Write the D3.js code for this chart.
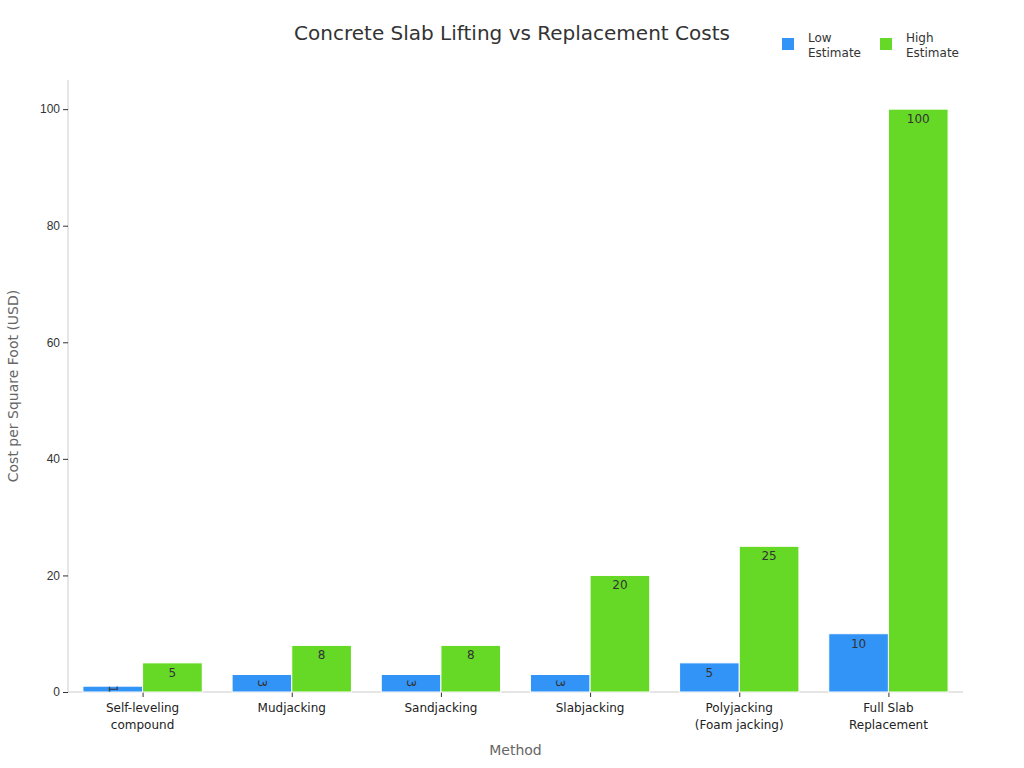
<!DOCTYPE html>
<html>
<head>
<meta charset="utf-8">
<script src="https://cdn.jsdelivr.net/npm/d3@7"></script>
<style>
  body { margin: 0; background: #fff; font-family: "DejaVu Sans", sans-serif; }
</style>
</head>
<body>
<div id="chart"></div>
<script>
// Chart data
const categories = [
  "Self-leveling\ncompound",
  "Mudjacking",
  "Sandjacking",
  "Slabjacking",
  "Polyjacking\n(Foam jacking)",
  "Full Slab\nReplacement"
];
const seriesNames = ["Low Estimate", "High Estimate"];
const lowEstimate = [1, 3, 3, 3, 5, 10];
const highEstimate = [5, 8, 8, 20, 25, 100];
const yTicks = [0, 20, 40, 60, 80, 100];
const colors = ["#3394f7", "#66d926"];

const svgWidth = 1024, svgHeight = 768;
const margin = { top: 80, right: 61, bottom: 76, left: 68 };
const width = svgWidth - margin.left - margin.right;
const height = svgHeight - margin.top - margin.bottom;

const svg = d3.select("#chart")
  .append("svg")
  .attr("width", svgWidth)
  .attr("height", svgHeight)
  .style("font-family", "'DejaVu Sans', sans-serif");

const g = svg.append("g")
  .attr("transform", "translate(" + margin.left + "," + margin.top + ")");

// Build rows for grouped bars
const rows = categories.map((c, i) => ({ cat: c, values: [lowEstimate[i], highEstimate[i]] }));

// each category gets an equal step, the bar pair fills 80% of it
const step = width / categories.length;
const groupWidth = step * 0.8;
const xInner = d3.scaleBand()
  .domain(seriesNames)
  .range([0, groupWidth]);

const y = d3.scaleLinear()
  .domain([0, 105])
  .range([height, 0]);

// Axes
const xAxis = g.append("g")
  .attr("transform", "translate(0," + height + ")")
  .call(d3.axisBottom(d3.scalePoint().domain(categories).range([step / 2, width - step / 2])).tickSize(5).tickFormat(""));
xAxis.select(".domain").attr("stroke", "#ccc").attr("d", "M0,0H" + width);
xAxis.selectAll(".tick line").attr("stroke", "#333");

const yAxis = g.append("g")
  .call(d3.axisLeft(y).tickValues(yTicks).tickSize(5));
yAxis.select(".domain").attr("stroke", "#ccc").attr("d", "M0,0V" + height);
yAxis.selectAll(".tick line").attr("stroke", "#333");
yAxis.selectAll(".tick text").attr("fill", "#333").style("font-size", "12px").attr("x", -8);

// Category labels (multi-line)
categories.forEach((c, i) => {
  const t = g.append("text")
    .attr("x", step * i + step / 2)
    .attr("y", height + 20)
    .attr("text-anchor", "middle")
    .attr("fill", "#222")
    .style("font-size", "12px");
  c.split("\n").forEach((line, j) => {
    t.append("tspan")
      .attr("x", step * i + step / 2)
      .attr("dy", j === 0 ? 0 : "1.4em")
      .text(line);
  });
});

// Bars
const groups = g.selectAll(".group")
  .data(rows)
  .enter()
  .append("g")
  .attr("class", "group")
  .attr("transform", (d, i) => "translate(" + (step * i + (step - groupWidth) / 2) + ",0)");

groups.selectAll("rect")
  .data(d => d.values.map((v, k) => ({ key: seriesNames[k], value: v, k: k })))
  .enter()
  .append("rect")
  .attr("x", d => xInner(d.key))
  .attr("y", d => y(d.value))
  .attr("width", xInner.bandwidth())
  .attr("height", d => height - y(d.value))
  .attr("fill", d => colors[d.k])
  .attr("stroke", "#fff")
  .attr("stroke-width", 1);

// Value labels
groups.selectAll(".lbl")
  .data(d => d.values.map((v, k) => ({ key: seriesNames[k], value: v, k: k })))
  .enter()
  .append("text")
  .attr("class", "lbl")
  .attr("fill", "#333")
  .style("font-size", "12px")
  .attr("text-anchor", "middle")
  .attr("transform", d => {
    const cx = xInner(d.key) + xInner.bandwidth() / 2;
    const barH = height - y(d.value);
    if (barH < 20) {
      // short bar: rotate the label
      return "translate(" + cx + "," + (y(d.value) + barH / 2) + ") rotate(90)";
    }
    return "translate(" + cx + "," + (y(d.value) + 14) + ")";
  })
  .attr("dy", d => (height - y(d.value)) < 20 ? "0.35em" : 0)
  .text(d => d.value);

// Title
svg.append("text")
  .attr("x", 512)
  .attr("y", 40)
  .attr("text-anchor", "middle")
  .attr("fill", "#333")
  .style("font-size", "20px")
  .text("Concrete Slab Lifting vs Replacement Costs");

// Axis titles
svg.append("text")
  .attr("x", margin.left + width / 2)
  .attr("y", 755)
  .attr("text-anchor", "middle")
  .attr("fill", "#666")
  .style("font-size", "14px")
  .text("Method");

svg.append("text")
  .attr("transform", "rotate(-90)")
  .attr("x", -(margin.top + height / 2))
  .attr("y", 18)
  .attr("text-anchor", "middle")
  .attr("fill", "#666")
  .style("font-size", "14px")
  .text("Cost per Square Foot (USD)");

// Legend
const legendX = [782, 880];
seriesNames.forEach((s, i) => {
  const lg = svg.append("g").attr("transform", "translate(" + legendX[i] + ",38)");
  lg.append("rect").attr("width", 12).attr("height", 12).attr("fill", colors[i]);
  const words = s.split(" ");
  words.forEach((w, j) => {
    lg.append("text")
      .attr("x", 26)
      .attr("y", 4 + j * 15)
      .attr("fill", "#333")
      .style("font-size", "12px")
      .text(w);
  });
});
</script>
</body>
</html>
